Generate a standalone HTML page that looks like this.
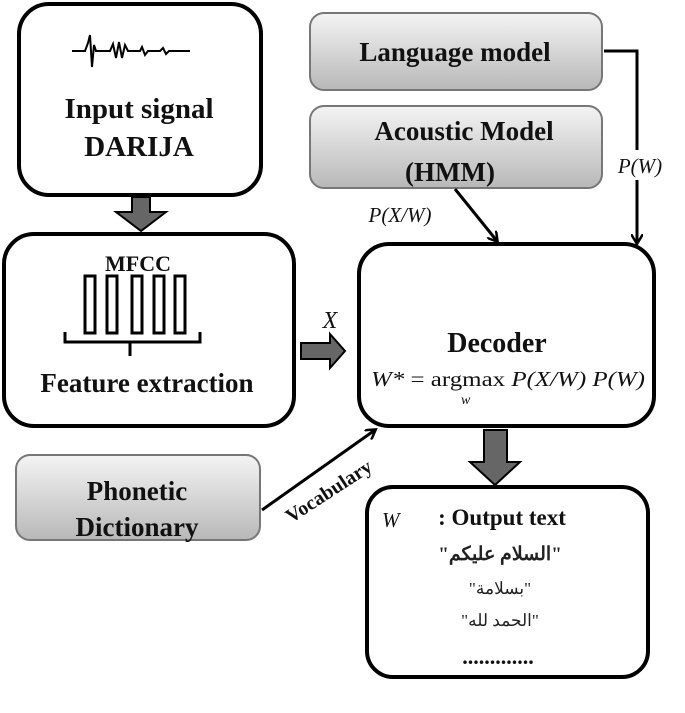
<!DOCTYPE html>
<html><head><meta charset="utf-8"><style>
html,body{margin:0;padding:0;background:#fff;}
svg{display:block;}
.b{font-family:"Liberation Serif",serif;font-weight:bold;fill:#111;}
.m{font-family:"Liberation Serif",serif;font-style:italic;fill:#111;}
.a{font-family:"Liberation Serif","Noto Sans CJK SC",sans-serif;fill:#222;}
</style></head><body>
<svg width="685" height="713" viewBox="0 0 685 713" xmlns="http://www.w3.org/2000/svg">
<defs>
<linearGradient id="g" x1="0" y1="0" x2="0" y2="1">
<stop offset="0" stop-color="#f4f4f4"/><stop offset="1" stop-color="#b8b8b8"/></linearGradient>
<marker id="ar" markerWidth="12" markerHeight="12" refX="9" refY="6" orient="auto" markerUnits="userSpaceOnUse">
<path d="M0,0 L10,6 L0,12" fill="none" stroke="#000" stroke-width="2.5"/></marker>
</defs>
<rect x="19" y="4" width="242" height="191" rx="30" fill="#fff" stroke="#000" stroke-width="4"/>
<path d="M72,51 L85,51 L88,43 L90,35 L92,67 L94,45 L96,51 L110,51 L113,44 L116,58 L119,42 L122,58 L125,45 L128,51 L140,51 L142,47 L145,55 L148,51 L160,51 L163,48 L166,54 L169,51 L190,51" fill="none" stroke="#000" stroke-width="2"/>
<text class="b" x="139" y="118" font-size="29" text-anchor="middle">Input signal</text>
<text class="b" x="139" y="156" font-size="29" text-anchor="middle">DARIJA</text>
<polygon points="132,197 150,197 150,212 166,212 141,231 116,212 132,212" fill="#666" stroke="#000" stroke-width="2"/>
<rect x="4" y="234" width="290" height="192" rx="30" fill="#fff" stroke="#000" stroke-width="4"/>
<text class="b" x="138" y="271" font-size="22" text-anchor="middle">MFCC</text>
<g fill="#fff" stroke="#000" stroke-width="3">
<rect x="85" y="276" width="10" height="57"/><rect x="107" y="276" width="10" height="57"/>
<rect x="132" y="276" width="10" height="57"/><rect x="154" y="276" width="10" height="57"/>
<rect x="175" y="276" width="10" height="57"/></g>
<path d="M65,332 L65,342 L200,342 L200,332 M130,342 L130,356" fill="none" stroke="#000" stroke-width="3"/>
<text class="b" x="147" y="392" font-size="27" text-anchor="middle">Feature extraction</text>
<polygon points="301,343 330,343 330,334 345,351 330,368 330,359 301,359" fill="#666" stroke="#000" stroke-width="2"/>
<text class="m" x="330" y="328" font-size="24" text-anchor="middle">X</text>
<rect x="310" y="13" width="292" height="77" rx="14" fill="url(#g)" stroke="#777" stroke-width="2"/>
<text class="b" x="455" y="61" font-size="27" text-anchor="middle">Language model</text>
<rect x="310" y="106" width="292" height="82" rx="14" fill="url(#g)" stroke="#777" stroke-width="2"/>
<text class="b" x="464" y="140" font-size="27" text-anchor="middle">Acoustic Model</text>
<text class="b" x="450" y="181" font-size="27" text-anchor="middle">(HMM)</text>
<path d="M604,51 L637,51 L637,243" fill="none" stroke="#000" stroke-width="3" marker-end="url(#ar)"/>
<rect x="606" y="150" width="64" height="30" fill="#fff"/>
<text class="m" x="640" y="173" font-size="21" text-anchor="middle">P(W)</text>
<path d="M455,189 L497,241" fill="none" stroke="#000" stroke-width="3" marker-end="url(#ar)"/>
<text class="m" x="400" y="222" font-size="21" text-anchor="middle">P(X/W)</text>
<rect x="359" y="244" width="295" height="182" rx="30" fill="#fff" stroke="#000" stroke-width="4"/>
<text class="b" x="497" y="352" font-size="28" text-anchor="middle">Decoder</text>
<text class="m" x="371" y="386" font-size="21" textLength="274" lengthAdjust="spacingAndGlyphs">W* <tspan font-style="normal">=</tspan> <tspan font-style="normal">argmax</tspan> P(X/W) P(W)</text>
<text class="m" x="461" y="404" font-size="14">w</text>
<polygon points="484,430 507,430 507,462 520,462 495,485 470,462 484,462" fill="#666" stroke="#000" stroke-width="2"/>
<rect x="16" y="455" width="244" height="85" rx="14" fill="url(#g)" stroke="#777" stroke-width="2"/>
<text class="b" x="137" y="500" font-size="27" text-anchor="middle">Phonetic</text>
<text class="b" x="137" y="536" font-size="27" text-anchor="middle">Dictionary</text>
<path d="M262,510 L375,430" fill="none" stroke="#000" stroke-width="3" marker-end="url(#ar)"/>
<text class="b" x="328" y="498" font-size="20" text-anchor="middle" transform="rotate(-33 328 490)">Vocabulary</text>
<rect x="367" y="487" width="281" height="190" rx="26" fill="#fff" stroke="#000" stroke-width="4"/>
<text class="m" x="382" y="527" font-size="21">W</text>
<text class="b" x="502" y="525" font-size="23" text-anchor="middle">: Output text</text>
<text class="a" x="500" y="560" font-size="19" font-weight="bold" text-anchor="middle">"السلام عليكم"</text>
<text class="a" x="500" y="594" font-size="17" text-anchor="middle">"بسلامة"</text>
<text class="a" x="500" y="626" font-size="17" text-anchor="middle">"الحمد لله"</text>
<text class="b" x="498" y="664" font-size="22" text-anchor="middle">.............</text>
</svg>
</body></html>
